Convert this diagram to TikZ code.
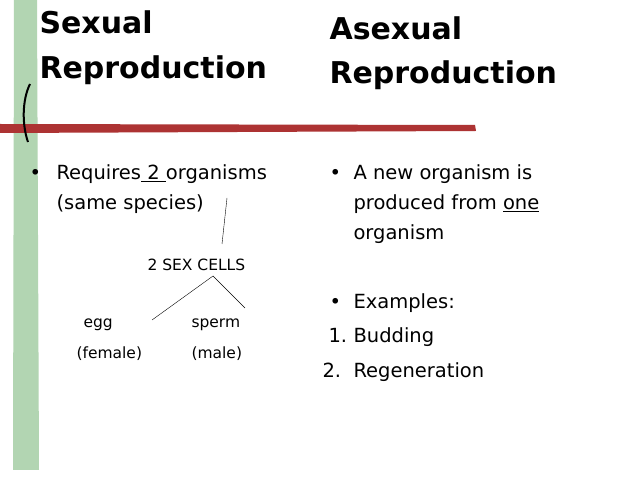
\documentclass[tikz,border=0pt]{standalone}
\usepackage{fontspec}
\setmainfont{DejaVu Sans}
\begin{document}
\begin{tikzpicture}[x=1pt,y=-1pt,
  title/.style={anchor=west,font=\bfseries\fontsize{30}{34}\selectfont},
  body/.style={anchor=base west,font=\fontsize{19.5}{22}\selectfont},
  small/.style={anchor=west,font=\fontsize{15.5}{18}\selectfont}]
\useasboundingbox[fill=white] (0,0) rectangle (638,478);
\fill[green!45!black!30!white] (14,0) -- (37,0) -- (39,470) -- (13,470) -- cycle;
\fill[red!60!black!80!white] (0,124) -- (475,125) -- (476,131) -- (0,133) -- cycle;
\draw[line width=2pt] (30,84) .. controls (22,100) and (22,125) .. (28,142);
\node[title] (t1) at (36,22) {Sexual};
\node[title] (t2) at (36,70) {Reproduction};
\node[title] (t3) at (326,28) {Asexual};
\node[title] (t4) at (326,75) {Reproduction};
\node[body] at (26,180) {•};
\node[body] (l1) at (53,180) {Requires\underline{\ 2\ }organisms};
\node[body] (l2) at (53,210) {(same species)};
\node[small] (sc) at (144,265) {2 SEX CELLS};
\node[small] (egg) at (80,325) {egg};
\node[small] (sp) at (188,325) {sperm};
\node[small] (fe) at (73,354) {(female)};
\node[small] (ma) at (188,354) {(male)};
\coordinate (a) at (227,198); \coordinate (b) at (222,244);
\draw (a) -- (b);
\coordinate (c) at (213,276); \coordinate (d) at (152,320); \coordinate (e) at (245,308);
\draw (d) -- (c) -- (e);
\node[body] at (326,180) {•};
\node[body] (r1) at (350,180) {A new organism is};
\node[body] at (350,210) {produced from \underline{one}};
\node[body] at (350,240) {organism};
\node[body] at (326,309) {•};
\node[body] at (350,309) {Examples:};
\node[body] at (325,343) {1.};
\node[body] at (350,343) {Budding};
\node[body] at (319,378) {2.};
\node[body] at (350,378) {Regeneration};
\end{tikzpicture}
\end{document}
